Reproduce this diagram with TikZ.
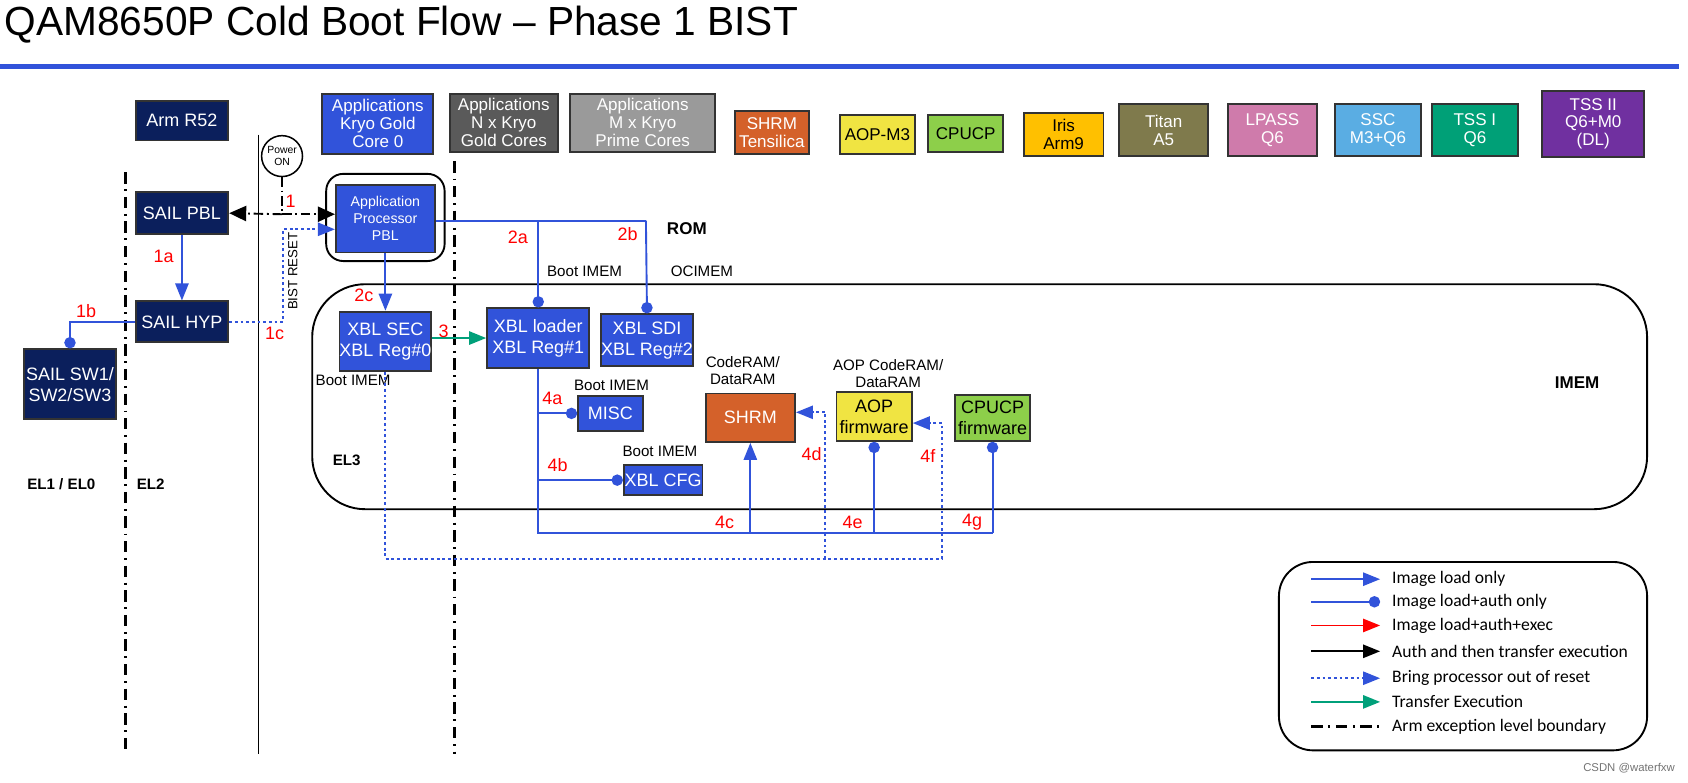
\documentclass[tikz,border=0pt]{standalone}
\usepackage{fontspec}
\setmainfont{Liberation Sans}
\newfontfamily\legendfont{Carlito}
\usetikzlibrary{positioning,arrows.meta}
\definecolor{navy}{HTML}{0B1F5C}
\definecolor{coreblue}{HTML}{3153DA}
\definecolor{darkgray}{HTML}{5A5A5A}
\definecolor{midgray}{HTML}{9A9A9A}
\definecolor{shrmorange}{HTML}{D4612A}
\definecolor{aopyellow}{HTML}{F0E442}
\definecolor{cpucpgreen}{HTML}{8DCF4A}
\definecolor{irisgold}{HTML}{FFC000}
\definecolor{titanolive}{HTML}{7F7A4C}
\definecolor{lpasspink}{HTML}{CF7BAB}
\definecolor{sscblue}{HTML}{5AADE3}
\definecolor{tssgreen}{HTML}{00A077}
\definecolor{tsspurple}{HTML}{7030A0}
\definecolor{flowred}{HTML}{FF0000}
\definecolor{flowgreen}{HTML}{00A07A}
\newdimen\pxu
\pxu=0.02cm

\begin{document}
\begin{tikzpicture}[
    x=0.02cm, y=-0.02cm,
    block/.style={
        draw=black!80,
        line width=1pt,
        inner sep=0pt,
        font=\fontsize{9.5}{11}\selectfont,
        align=center,
        text=white,
    },
    proc/.style={block, fill=navy},
    img/.style={block, fill=coreblue},
    core/.style={block, font=\fontsize{9}{9.5}\selectfont},
    steplbl/.style={text=flowred, font=\fontsize{9.5}{10}\selectfont},
    note/.style={font=\fontsize{8}{9}\selectfont, align=center},
    load/.style={draw=coreblue, line width=1pt, -{Triangle[length=9pt,width=7pt]}},
    auth/.style={draw=coreblue, line width=1pt, -{Circle[length=6pt]}},
    plain/.style={draw=coreblue, line width=1pt},
    reset/.style={draw=coreblue, line width=1pt, dash pattern=on 1.5pt off 1.5pt},
    resetarrow/.style={reset, -{Triangle[length=9pt,width=7pt]}},
    exec/.style={load, draw=flowred},
    authxfer/.style={load, draw=black},
    xfer/.style={load, draw=flowgreen},
    boundary/.style={draw=black, line width=1.6pt, dash pattern=on 6pt off 3pt on 1pt off 3pt},
]
\useasboundingbox (0,0) rectangle (1568,727);

% title
\node[anchor=north west, inner sep=0pt, font=\fontsize{21.5}{24}\selectfont] (title) at (4,5) {QAM8650P Cold Boot Flow -- Phase 1 BIST};
\draw[coreblue, line width=2.5pt] (0,62) -- (1560,62);

% processor row
\node[proc, minimum width=85\pxu, minimum height=37\pxu] (r52) at (169,112) {Arm R52};
\node[core, fill=coreblue, minimum width=103\pxu, minimum height=56\pxu] (kryo0) at (351,115) {Applications\\Kryo Gold\\Core 0};
\node[core, fill=darkgray, minimum width=100\pxu, minimum height=54\pxu] (kryon) at (468,114) {Applications\\N x Kryo\\Gold Cores};
\node[core, fill=midgray, minimum width=135\pxu, minimum height=54\pxu] (kryom) at (597,114) {Applications\\M x Kryo\\Prime Cores};
\node[core, fill=shrmorange, minimum width=69\pxu, minimum height=40\pxu] (shrmc) at (717,123) {SHRM\\Tensilica};
\node[core, fill=aopyellow, text=black, minimum width=70\pxu, minimum height=36\pxu] (aopc) at (815,125) {AOP-M3};
\node[core, fill=cpucpgreen, text=black, minimum width=70\pxu, minimum height=34\pxu] (cpucpc) at (897,124) {CPUCP};
\node[core, fill=irisgold, text=black, minimum width=74\pxu, minimum height=40\pxu] (irisc) at (988,125) {Iris\\Arm9};
\node[core, fill=titanolive, minimum width=83\pxu, minimum height=48\pxu] (titanc) at (1081,121) {Titan\\A5};
\node[core, fill=lpasspink, minimum width=83\pxu, minimum height=48\pxu] (lpassc) at (1182,121) {LPASS\\Q6};
\node[core, fill=sscblue, minimum width=80\pxu, minimum height=48\pxu] (sscc) at (1280,121) {SSC\\M3+Q6};
\node[core, fill=tssgreen, minimum width=80\pxu, minimum height=48\pxu] (tss1c) at (1370,121) {TSS I\\Q6};
\node[core, fill=tsspurple, minimum width=95\pxu, minimum height=61\pxu] (tss2c) at (1480,115) {TSS II\\Q6+M0\\(DL)};

% exception level boundaries
\coordinate (elA) at (117,160);
\coordinate (elAend) at (117,700);
\coordinate (elB) at (422,150);
\coordinate (elBend) at (422,700);
\coordinate (sep) at (240,125);
\coordinate (sepend) at (240,700);
\draw[boundary] (elA) -- (elAend);
\draw[boundary] (elB) -- (elBend);
\draw[line width=0.8pt] (sep) -- (sepend);

% memory regions
\node[draw, line width=1pt, rounded corners=28pt, minimum width=1240\pxu, minimum height=209\pxu, inner sep=0pt] (imem) at (910,368.5) {};
\node[font=\bfseries\fontsize{9}{10}\selectfont] (romlbl) at (638,212) {ROM};
\node[font=\bfseries\fontsize{9}{10}\selectfont] (imemlbl) at (1465,355) {IMEM};
\node[font=\bfseries\fontsize{8}{9}\selectfont] (el3) at (322,428) {EL3};
\node[font=\bfseries\fontsize{8}{9}\selectfont] (el10) at (57,450) {EL1 / EL0};
\node[font=\bfseries\fontsize{8}{9}\selectfont] (el2) at (140,450) {EL2};

% SAIL side
\node[draw, circle, fill=white, line width=0.8pt, minimum size=38\pxu, inner sep=0pt, font=\fontsize{5.5}{6}\selectfont, align=center] (poweron) at (262,145) {Power\\ON};
\node[proc, minimum width=86\pxu, minimum height=39\pxu] (sailpbl) at (169,198) {SAIL PBL};
\node[proc, minimum width=86\pxu, minimum height=38\pxu] (sailhyp) at (169,299) {SAIL HYP};
\node[proc, minimum width=85\pxu, minimum height=65\pxu] (sailsw) at (65,357) {SAIL SW1/\\SW2/SW3};

% application side
\node[draw, fill=white, line width=1pt, rounded corners=9pt, minimum width=110\pxu, minimum height=81\pxu] (pblframe) at (358,202) {};
\node[img, minimum width=92\pxu, minimum height=63\pxu, font=\fontsize{7.5}{9}\selectfont] (appbl) at (358,203) {Application\\Processor\\PBL};
\node[img, minimum width=84\pxu, minimum height=55\pxu] (xblsec) at (358,317) {XBL SEC\\XBL Reg\#0};
\node[img, minimum width=95\pxu, minimum height=55\pxu] (xblldr) at (500,314) {XBL loader\\XBL Reg\#1};
\node[img, minimum width=82\pxu, minimum height=48\pxu] (xblsdi) at (601,316) {XBL SDI\\XBL Reg\#2};
\node[img, minimum width=60\pxu, minimum height=32\pxu] (misc) at (567,384) {MISC};
\node[img, minimum width=73\pxu, minimum height=28\pxu] (xblcfg) at (616,446) {XBL CFG};
\node[block, fill=shrmorange, minimum width=83\pxu, minimum height=45\pxu] (shrm) at (697,388) {SHRM};
\node[block, fill=aopyellow, text=black, minimum width=70\pxu, minimum height=45\pxu] (aopfw) at (812,387) {AOP\\firmware};
\node[block, fill=cpucpgreen, text=black, minimum width=70\pxu, minimum height=43\pxu] (cpucpfw) at (922,388) {CPUCP\\firmware};

\node[note] (imemsec) at (328,353) {Boot IMEM};
\node[note] (imemldr) at (543,252) {Boot IMEM};
\node[note] (ocimem) at (652,252) {OCIMEM};
\node[note] (imemmisc) at (568,358) {Boot IMEM};
\node[note] (imemcfg) at (613,419) {Boot IMEM};
\node[note] (shrmram) at (690,344) {CodeRAM/\\DataRAM};
\node[note] (aopram) at (825,347) {AOP CodeRAM/\\DataRAM};

% step 1
\coordinate (pwrtap) at (262,199);
\draw[line width=1pt, dash pattern=on 5pt off 2pt on 1pt off 2pt] (poweron) -- (pwrtap);
\draw[line width=1pt, dash pattern=on 5pt off 2pt on 1pt off 2pt, -{Triangle[length=9pt,width=8pt]}] (pwrtap) -- (sailpbl.east);
\draw[line width=1pt, dash pattern=on 5pt off 2pt on 1pt off 2pt, -{Triangle[length=9pt,width=8pt]}] (pwrtap) -- (appbl.west |- pwrtap);
\node[steplbl] (s1) at (270,187) {1};

% steps 1a, 1b, 1c
\draw[load] (sailpbl) -- (sailhyp);
\node[steplbl] (s1a) at (152,238) {1a};
\draw[auth] (sailhyp.west) -| (sailsw.north);
\node[steplbl] (s1b) at (80,289) {1b};
\coordinate (bistup) at (263,213);
\draw[resetarrow] (sailhyp.east) -| (bistup) -- (appbl.west |- bistup);
\node[steplbl] (s1c) at (255,310) {1c};
\node[rotate=90, font=\fontsize{7}{8}\selectfont] (bist) at (272,252) {BIST RESET};

% steps 2a, 2b, 2c, 3
\coordinate (romtap) at (600,205);
\draw[plain] (appbl.east |- romtap) -- (romtap);
\draw[auth] (xblldr.north |- romtap) -- (xblldr.north);
\draw[auth] (romtap) -- (xblsdi.north);
\node[steplbl] (s2a) at (481,220) {2a};
\node[steplbl] (s2b) at (583,217) {2b};
\draw[load] (appbl) -- (xblsec);
\node[steplbl] (s2c) at (338,274) {2c};
\draw[xfer] (xblsec.east |- xblldr.west) -- (xblldr.west);
\node[steplbl] (s3) at (412,308) {3};

% steps 4a - 4g
\coordinate (busend) at (922,495);
\draw[plain] (xblldr.south) |- (busend);
\draw[auth] (xblldr.south |- misc.west) -- (misc.west);
\draw[auth] (xblldr.south |- xblcfg.west) -- (xblcfg.west);
\draw[load] (shrm.south |- busend) -- (shrm.south);
\draw[auth] (aopfw.south |- busend) -- (aopfw.south);
\draw[auth] (busend) -- (cpucpfw.south);
\node[steplbl] (s4a) at (513,370) {4a};
\node[steplbl] (s4b) at (518,432) {4b};
\node[steplbl] (s4c) at (673,485) {4c};
\node[steplbl] (s4e) at (792,485) {4e};
\node[steplbl] (s4g) at (903,485) {4g};

\coordinate (resetend) at (875,519);
\coordinate (shrmtap) at (766,383);
\coordinate (aoptap) at (875,393);
\draw[reset] (xblsec.south) |- (resetend) -- (aoptap);
\draw[reset] (shrmtap |- resetend) -- (shrmtap);
\draw[resetarrow] (shrmtap) -- (shrm.east |- shrmtap);
\draw[resetarrow] (aoptap) -- (aopfw.east |- aoptap);
\node[steplbl] (s4d) at (754,422) {4d};
\node[steplbl] (s4f) at (862,424) {4f};

% legend
\node[draw, line width=1pt, rounded corners=18pt, minimum width=342\pxu, minimum height=175\pxu] (legend) at (1359,609.5) {};
\foreach \i/\y/\sty/\txt in {
    0/538/load/{Image load only},
    1/559/auth/{Image load+auth only},
    2/581/exec/{Image load+auth+exec},
    3/605/authxfer/{Auth and then transfer execution},
    4/630/resetarrow/{Bring processor out of reset},
    5/652/xfer/{Transfer Execution},
    6/675/boundary/{Arm exception level boundary}} {
    \coordinate (key\i) at (1218,\y);
    \coordinate (keyend\i) at (1282,\y);
    \draw[\sty] (key\i) -- (keyend\i);
    \node[anchor=west, font=\legendfont\fontsize{9.3}{10}\selectfont] (keytxt\i) at (1287,\y) {\txt};
}

\node[anchor=east, text=black!55, font=\fontsize{6}{7}\selectfont] (csdn) at (1562,714) {CSDN @waterfxw};
\end{tikzpicture}
\end{document}
